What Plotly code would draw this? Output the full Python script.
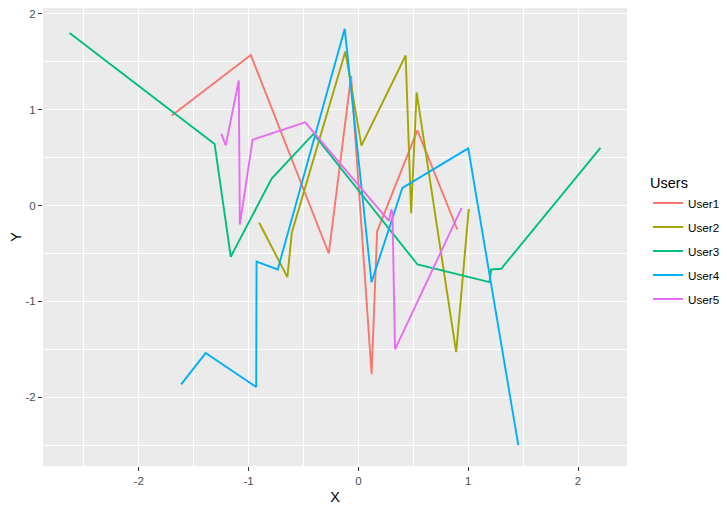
import plotly.graph_objects as go

# values (each series already sorted by x, as geom_line does)
users = ["User1", "User2", "User3", "User4", "User5"]
colors = ["#F8766D", "#A3A500", "#00BF7D", "#00B0F6", "#E76BF3"]

user1_x = [-1.70, -0.98, -0.27, -0.067, 0.12, 0.17, 0.537, 0.90]
user1_y = [0.94, 1.57, -0.50, 1.35, -1.76, -0.27, 0.785, -0.25]

user2_x = [-0.904, -0.647, -0.607, -0.119, 0.027, 0.43, 0.48, 0.53, 0.89, 1.005]
user2_y = [-0.18, -0.747, -0.284, 1.607, 0.625, 1.565, -0.08, 1.18, -1.53, -0.035]

user3_x = [-2.631, -1.31, -1.163, -0.79, -0.409, 0.538, 1.194, 1.209, 1.30, 2.204]
user3_y = [1.799, 0.643, -0.534, 0.281, 0.747, -0.615, -0.799, -0.667, -0.66, 0.601]

user4_x = [-1.615, -1.392, -0.931, -0.928, -0.735, -0.125, 0.119, 0.40, 1.0, 1.456]
user4_y = [-1.865, -1.539, -1.893, -0.586, -0.667, 1.844, -0.799, 0.184, 0.597, -2.50]

user5_x = [-1.248, -1.209, -1.09, -1.08, -0.964, -0.485, 0.277, 0.30, 0.31, 0.333, 0.94]
user5_y = [0.747, 0.628, 1.305, -0.198, 0.6875, 0.868, -0.16, -0.04, -0.08, -1.50, -0.025]

tick_vals = [-2, -1, 0, 1, 2]
tick_text = ["-2", "-1", "0", "1", "2"]

xs = [user1_x, user2_x, user3_x, user4_x, user5_x]
ys = [user1_y, user2_y, user3_y, user4_y, user5_y]

font = "Liberation Sans, Arial, sans-serif"

fig = go.Figure()
for name, col, x, y in zip(users, colors, xs, ys):
    fig.add_trace(go.Scatter(x=x, y=y, mode="lines", name=name, legendgroup=name,
                             line=dict(color=col, width=1.9)))

axis_common = dict(
    showgrid=True, gridcolor="white", gridwidth=1.1, zeroline=False,
    ticks="outside", ticklen=4, tickcolor="#333333", tickwidth=1,
    tickfont=dict(family=font, size=11.5, color="#4D4D4D"),
    showline=False, tickmode="array", tickvals=tick_vals, ticktext=tick_text,
    automargin=False, ticklabeloverflow="allow",
    minor=dict(dtick=0.5, tick0=0, showgrid=True, gridcolor="white", gridwidth=0.5, ticks=""),
)

# the page adds an 8px body margin, so margins are shifted to compensate
fig.update_layout(
    width=727, height=513,
    margin=dict(l=35, r=108, t=0, b=55),
    paper_bgcolor="white", plot_bgcolor="#EBEBEB",
    font=dict(family=font, color="black"),
    xaxis=dict(axis_common, range=[-2.873, 2.446],
               title=dict(text="X", font=dict(family=font, size=14.5), standoff=6)),
    yaxis=dict(axis_common, range=[-2.717, 2.061],
               title=dict(text="Y", font=dict(family=font, size=14.5), standoff=5)),
    legend=dict(x=1.036, xanchor="left", y=0.49, yanchor="middle",
                title=dict(text="Users", font=dict(family=font, size=14.5)),
                font=dict(family=font, size=11.7), tracegroupgap=5,
                itemwidth=30, bgcolor="rgba(0,0,0,0)"),
)

fig.write_html("out.html")
